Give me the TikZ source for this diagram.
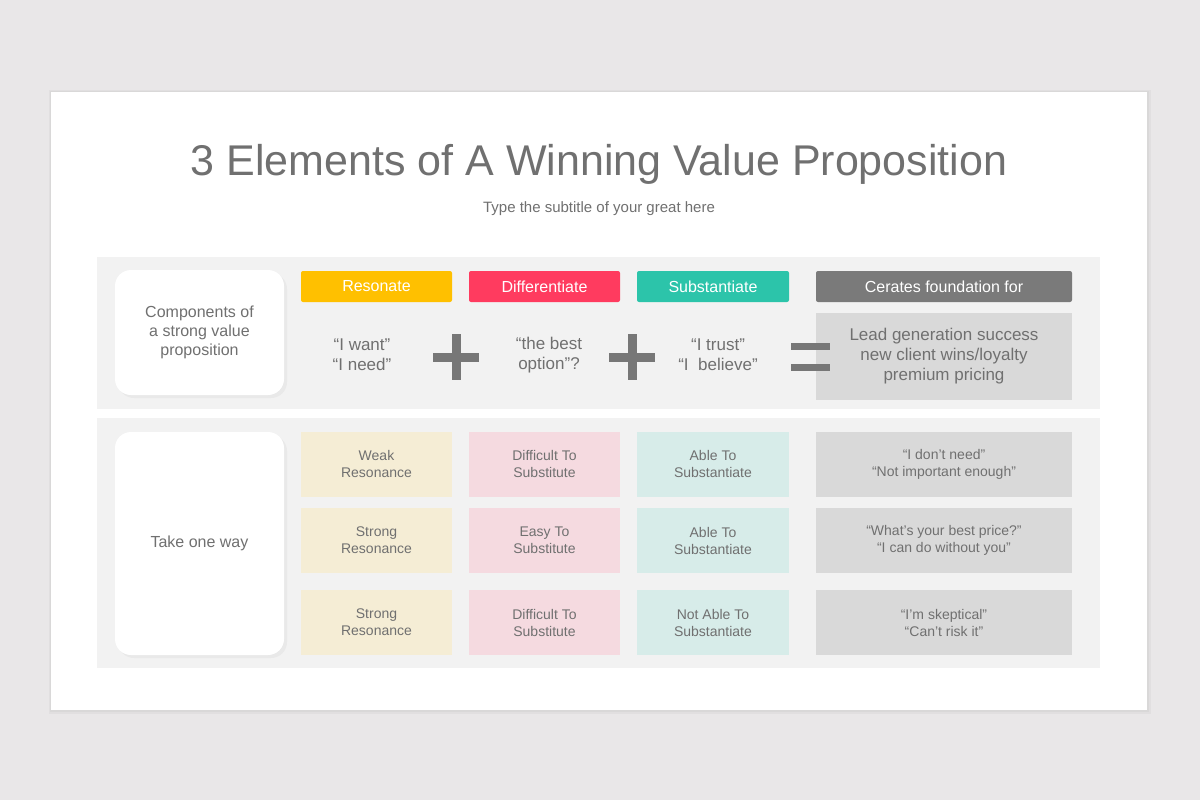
\documentclass[tikz,border=0pt]{standalone}
\usepackage{fontspec}
\setmainfont{Liberation Sans}
\usetikzlibrary{shadows}
\definecolor{bg}{HTML}{E9E7E8}
\definecolor{band}{HTML}{F2F2F2}
\definecolor{txt}{HTML}{707070}
\definecolor{cY}{HTML}{FFC000}
\definecolor{cR}{HTML}{FF3B5F}
\definecolor{cT}{HTML}{2CC4AA}
\definecolor{cG}{HTML}{7A7A7A}
\definecolor{lY}{HTML}{F5EDD5}
\definecolor{lR}{HTML}{F5DAE0}
\definecolor{lT}{HTML}{D7ECE9}
\definecolor{lG}{HTML}{D9D9D9}
\definecolor{op}{HTML}{777777}
\begin{document}
\begin{tikzpicture}[x=1pt,y=-1pt,
  hdr/.style={minimum height=31pt,inner sep=0pt,text=white,font=\fontsize{16}{18}\selectfont,rounded corners=2pt},
  cell/.style={minimum height=65pt,minimum width=151pt,inner sep=0pt,text=txt,align=center,font=\fontsize{14}{17}\selectfont},
  big/.style={text=txt,align=center,font=\fontsize{17}{20}\selectfont},
  wbox/.style={fill=white,rounded corners=16pt,text=txt,align=center,font=\fontsize{16}{19}\selectfont,drop shadow={opacity=0.08,shadow xshift=3pt,shadow yshift=-3pt}},
  opl/.style={op,line width=9pt}]
\useasboundingbox (0,0) rectangle (1200,800);
\fill[bg] (0,0) rectangle (1200,800);
\fill[black,opacity=0.03] (49,90) rectangle (1151,714);
\fill[black,opacity=0.03] (50,91) rectangle (1149,712);
\fill[white] (51,92) rectangle (1147,710);
\node[text=txt,font=\fontsize{43}{46}\selectfont] (title) at (599,164) {3 Elements of A Winning Value Proposition};
\node[text=txt,font=\fontsize{15}{18}\selectfont] (sub) at (599,209) {Type the subtitle of your great here};
\fill[band] (97,257) rectangle (1100,409);
\fill[band] (97,418) rectangle (1100,668);
\node[wbox,minimum width=169pt,minimum height=125pt] (comp) at (199.5,332.5) {Components of\\a strong value\\proposition};
\node[wbox,minimum width=169pt,minimum height=223pt] (take) at (199.5,543.5) {Take one way};
\node[hdr,fill=cY,minimum width=151pt] (h1) at (376.5,286.5) {Resonate};
\node[hdr,fill=cR,minimum width=151pt] (h2) at (544.5,286.5) {Differentiate};
\node[hdr,fill=cT,minimum width=152pt] (h3) at (713,286.5) {Substantiate};
\node[hdr,fill=cG,minimum width=256pt] (h4) at (944,286.5) {Cerates foundation for};
\node[big] (t1) at (362,355) {“I want”\\“I need”};
\node[big] (t2) at (549,355) {“the best\\option”?};
\node[big] (t3) at (718,355) {“I trust”\\“I\ \ believe”};
\node[fill=lG,minimum width=256pt,minimum height=87pt,big] (res) at (944,356.5) {Lead generation success\\new client wins/loyalty\\premium pricing};
\draw[opl] (456,334) -- (456,380) (433,357) -- (479,357);
\draw[opl] (632,334) -- (632,380) (609,357) -- (655,357);
\draw[op,line width=7pt] (791,346) -- (830,346) (791,367) -- (830,367);
\foreach \y/\a/\b/\c/\d [count=\i] in {464/Weak\\Resonance/Difficult To\\Substitute/Able To\\Substantiate/“I don’t need”\\“Not important enough”,
  540.5/Strong\\Resonance/Easy To\\Substitute/Able To\\Substantiate/“What’s your best price?”\\“I can do without you”,
  622.5/Strong\\Resonance/Difficult To\\Substitute/Not Able To\\Substantiate/“I’m skeptical”\\“Can’t risk it”}{
  \node[cell,fill=lY] (a\i) at (376.5,\y) {\a};
  \node[cell,fill=lR] (b\i) at (544.5,\y) {\b};
  \node[cell,fill=lT,minimum width=152pt] (c\i) at (713,\y) {\c};
  \node[cell,fill=lG,minimum width=256pt] (d\i) at (944,\y) {\d};
}
\end{tikzpicture}
\end{document}
